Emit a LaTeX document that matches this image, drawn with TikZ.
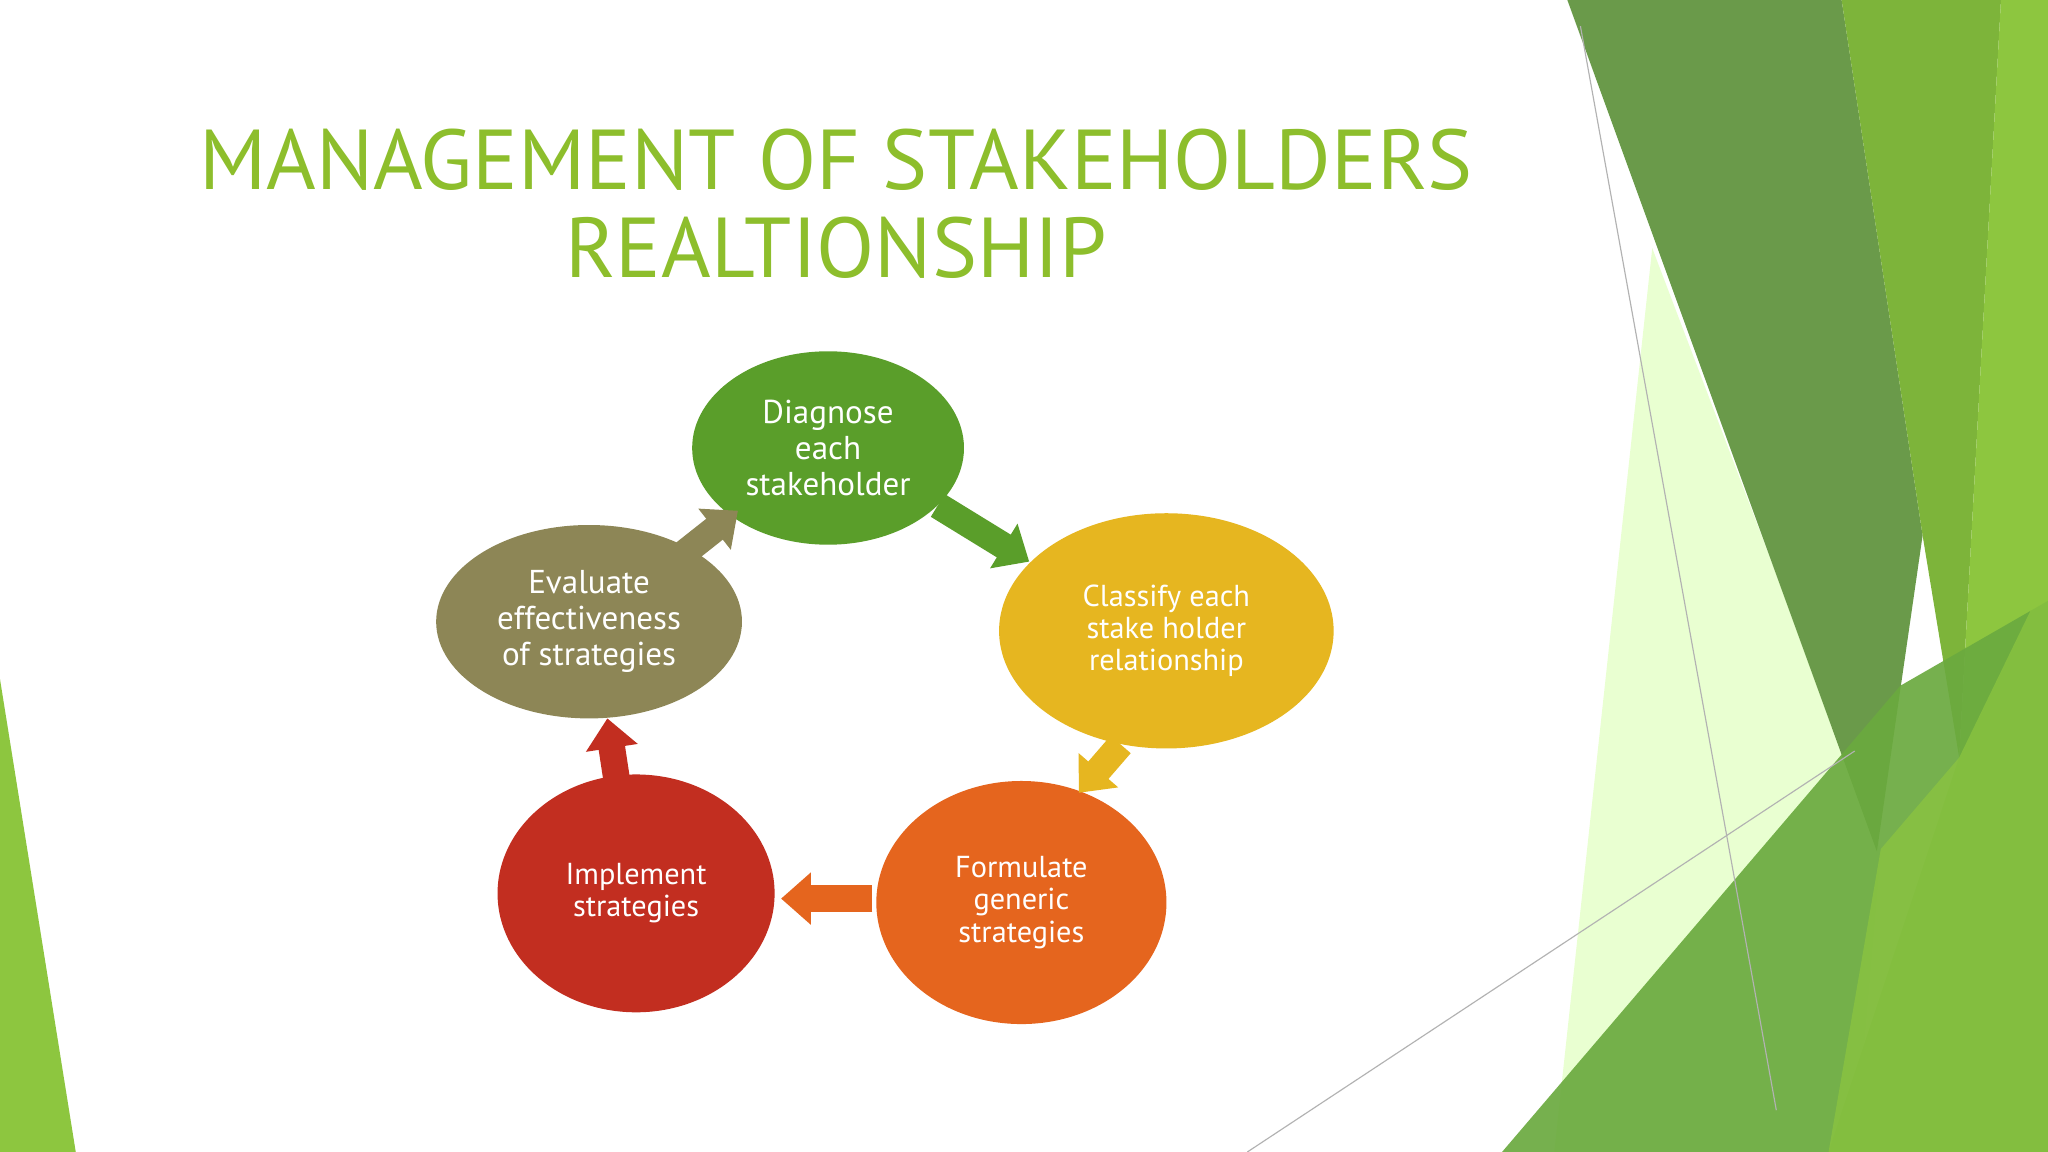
\documentclass[tikz,border=0pt]{standalone}
\usepackage{fontspec}
\setmainfont{PT Sans}
\usetikzlibrary{arrows.meta,shapes.geometric}
\definecolor{tgreen}{HTML}{8DBE2C}
\definecolor{cdiag}{HTML}{5A9E2A}
\definecolor{cclass}{HTML}{E6B620}
\definecolor{cform}{HTML}{E5651E}
\definecolor{cimpl}{HTML}{C22E20}
\definecolor{ceval}{HTML}{8D8656}
\tikzset{
 bubble/.style={ellipse,draw=none,text=white,align=center,font=\fontsize{6.8}{7.6}\selectfont,inner sep=0pt},
 blockarrow/.style={line width=5.8pt,-{Triangle[width=11pt,length=6.5pt]}},
 bgline/.style={draw=gray!60,line width=0.25pt}
}
\begin{document}
\begin{tikzpicture}[x=0.01cm,y=-0.01cm]
\useasboundingbox (0,0) rectangle (1568,882);
\fill[white] (0,0) rectangle (1568,882);
% background
\fill[green!30!lime!20!white,opacity=0.9] (1265,190) -- (1440,650) -- (1420,882) -- (1190,882) -- cycle;
\fill[fill={rgb,255:red,106;green,154;blue,74}] (1200,0) -- (1410,0) -- (1472,410) -- (1437,652) -- cycle;
\fill[fill={rgb,255:red,125;green,180;blue,58}] (1410,0) -- (1532,0) -- (1500,580) -- (1472,410) -- cycle;
\fill[fill={rgb,255:red,141;green,198;blue,63}] (1532,0) -- (1568,0) -- (1568,882) -- (1400,882) -- (1500,580) -- cycle;
\fill[fill={rgb,255:red,107;green,170;blue,63},opacity=0.92] (1150,882) -- (1455,525) -- (1568,460) -- (1568,882) -- cycle;
\fill[fill={rgb,255:red,141;green,198;blue,63},opacity=0.7] (1440,650) -- (1500,580) -- (1568,440) -- (1568,882) -- (1400,882) -- cycle;
\fill[fill={rgb,255:red,141;green,198;blue,63}] (0,520) -- (58,882) -- (0,882) -- cycle;
\draw[bgline] (1210,20) -- (1360,850);
\draw[bgline] (955,882) -- (1420,575);
% title
\node[text=tgreen,font=\fontsize{18.5}{20}\selectfont] (t1) at (640,122) {MANAGEMENT OF STAKEHOLDERS};
\node[text=tgreen,font=\fontsize{18.5}{20}\selectfont] (t2) at (640,190) {REALTIONSHIP};
% nodes
\node[bubble,fill=cdiag,minimum width=2.08cm,minimum height=1.48cm,font=\fontsize{7.2}{7.8}\selectfont] (d) at (634,343) {Diagnose\\each\\stakeholder};
\node[bubble,fill=cclass,minimum width=2.56cm,minimum height=1.80cm,font=\fontsize{6.6}{7}\selectfont] (c) at (893,483) {Classify each\\stake holder\\relationship};
\node[bubble,fill=cform,minimum width=2.22cm,minimum height=1.86cm,font=\fontsize{6.6}{7}\selectfont] (f) at (782,691) {Formulate\\generic\\strategies};
\node[bubble,fill=cimpl,minimum width=2.12cm,minimum height=1.82cm,font=\fontsize{6.6}{7}\selectfont] (i) at (487,684) {Implement\\strategies};
\node[bubble,fill=ceval,minimum width=2.34cm,minimum height=1.48cm,font=\fontsize{7.2}{7.8}\selectfont] (e) at (451,476) {Evaluate\\effectiveness\\of strategies};
% arrows
\coordinate (a1s) at (718,387); \coordinate (a1e) at (788,430);
\coordinate (a2s) at (858,570); \coordinate (a2e) at (826,607);
\coordinate (a3s) at (668,688); \coordinate (a3e) at (598,688);
\coordinate (a4s) at (472,596); \coordinate (a4e) at (465,550);
\coordinate (a5s) at (522,425); \coordinate (a5e) at (565,391);
\draw[blockarrow,cdiag] (a1s) -- (a1e);
\draw[blockarrow,cclass] (a2s) -- (a2e);
\draw[blockarrow,cform] (a3s) -- (a3e);
\draw[blockarrow,cimpl] (a4s) -- (a4e);
\draw[blockarrow,ceval] (a5s) -- (a5e);
\end{tikzpicture}
\end{document}
